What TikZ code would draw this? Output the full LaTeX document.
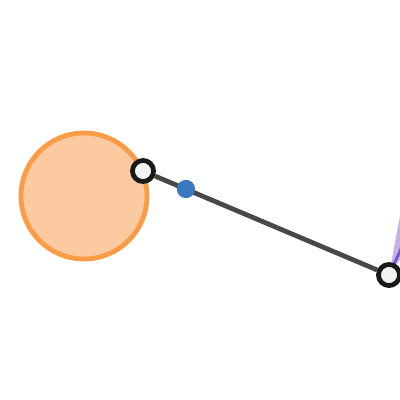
\documentclass[tikz,border=0pt]{standalone}
\definecolor{ballfill}{RGB}{251,202,161}
\definecolor{balledge}{RGB}{250,155,70}
\definecolor{rodgray}{RGB}{72,72,72}
\definecolor{massblue}{RGB}{58,120,192}
\definecolor{wedgelight}{RGB}{185,165,228}
\definecolor{wedgedark}{RGB}{115,85,200}
\tikzset{
	pivot/.style={circle , draw=black!90 , fill=gray!10 , line width=3.4pt , minimum size=15pt , inner sep=0pt},
	mass/.style={circle , fill=massblue , minimum size=13pt , inner sep=0pt}
}
\begin{document}
\begin{tikzpicture}[x=0.025cm , y=-0.025cm]
	\useasboundingbox (0 , 0) rectangle (400 , 400);
	\clip (0 , 0) rectangle (400 , 400);
	\coordinate (O) at (389 , 275);
	\fill [wedgelight , opacity=0.85](O) -- (402 , 205) -- (440 , 205) -- cycle;
	\draw [wedgedark , line width=2pt](O) -- (412 , 225);
	\draw [balledge , fill=ballfill , line width=3.4pt](84 , 196) circle (63);
	\node[pivot] (A) at (143 , 171){};
	\node[pivot] (B) at (O){};
	\draw [rodgray , line width=3.4pt](A) -- (B);
	\node[mass] (M) at (186 , 189){};
\end{tikzpicture}
\end{document}
